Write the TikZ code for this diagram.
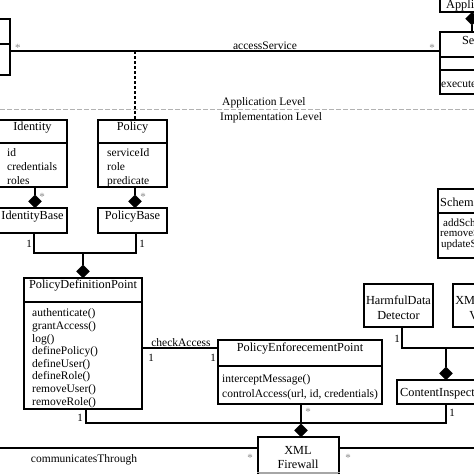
\documentclass[tikz,border=0pt]{standalone}
\usepackage{fontspec}
\setmainfont{Liberation Serif}
\usetikzlibrary{fit,shapes.geometric}
\begin{document}
\begin{tikzpicture}[x=1pt,y=-1pt,
  box/.style={draw, line width=1.1pt, inner sep=0pt, outer sep=0pt, font=\fontsize{12.3}{14}\selectfont},
  txt/.style={font=\fontsize{11.5}{13}\selectfont, inner sep=0pt, anchor=base west},
  ctr/.style={font=\fontsize{12.3}{14}\selectfont, inner sep=0pt, anchor=base},
  lbl/.style={font=\fontsize{11.5}{13}\selectfont, inner sep=0pt, anchor=base},
  mult/.style={font=\fontsize{11}{11}\selectfont, inner sep=0pt, anchor=base},
  ast/.style={font=\fontsize{11}{11}\selectfont, text=black!45, inner sep=0pt, anchor=base},
  dia/.style={diamond, fill=black, draw=black, line width=0.4pt, inner sep=0pt, minimum width=13pt, minimum height=13pt},
  conn/.style={line width=1.1pt}]
\useasboundingbox (0,0) rectangle (474,474);
\fill[white] (0,0) rectangle (474,474);
\clip (0,0) rectangle (474,474);

% ---------- top level classes ----------
\node[box, fit={(-20,19) (10,44)}] (tln) {};
\node[box, fit={(-20,44) (10,75)}] (tlb) {};

\node[box, fit={(440,-10) (504,12)}] (app) {};
\node[txt, font=\fontsize{12.3}{14}\selectfont] (appt) at (446,8) {Application};
\node[box, fit={(440,32) (521,57)}] (svn) {Service};
\node[box, fit={(440,57) (521,70)}] (sva) {};
\node[box, fit={(440,70) (521,94)}] (svo) {};
\node[txt] (svot) at (441,87) {executeService()};

\node[dia, anchor=north] (d6) at (app.south -| 472,0) {};
\draw[conn] (d6.south) -- (svn.north -| 472,0);

\draw[conn] (tlb.east |- 0,51) -- (svn.west |- 0,51);
\node[lbl] (accl) at (265,49) {accessService};
\node[ast] (acc1) at (18,51.4) {*};
\node[ast] (acc2) at (432,51.4) {*};

\coordinate (dsh) at (135,51);

% ---------- level separator ----------
\coordinate (sepL) at (0,109);
\coordinate (sepR) at (474,109);
\draw[black!30, line width=0.8pt, dash pattern=on 5pt off 2pt] (sepL) -- (sepR);
\node[txt] (appl) at (222,105) {Application Level};
\node[txt] (impl) at (220,120.5) {Implementation Level};

% ---------- Identity / Policy ----------
\node[box, fit={(-2,120) (67,143)}] (idn) {Identity};
\node[box, fit={(-2,143) (67,187)}] (ida) {};
\node[txt] (ida1) at (7,156.5) {id};
\node[txt] (ida2) at (7,170.5) {credentials};
\node[txt] (ida3) at (7,184.5) {roles};

\node[box, fit={(98,120) (167,143)}] (poln) {Policy};
\node[box, fit={(98,143) (167,187)}] (pola) {};
\node[txt] (pola1) at (107,156.5) {serviceId};
\node[txt] (pola2) at (107,170.5) {role};
\node[txt] (pola3) at (107,184.5) {predicate};

\draw[conn, dash pattern=on 3pt off 2pt] (dsh) -- (poln.north -| dsh);

\node[box, fit={(-2,208) (67,233)}] (ib) {IdentityBase};
\node[box, fit={(98,208) (167,233)}] (pb) {PolicyBase};

\node[dia, anchor=south] (d1) at (ib.north -| 35,0) {};
\draw[conn] (ida.south -| 35,0) -- (d1.north);
\node[ast] (ast1) at (42,200.5) {*};
\node[dia, anchor=south] (d2) at (pb.north -| 135,0) {};
\draw[conn] (pola.south -| 135,0) -- (d2.north);
\node[ast] (ast2) at (143,200.5) {*};

% ---------- PolicyDefinitionPoint ----------
\node[box, fit={(24,278) (142,302)}] (pdpn) {PolicyDefinitionPoint};
\node[box, fit={(24,302) (142,409)}] (pdpo) {};
\foreach \t [count=\i from 0] in {authenticate(),grantAccess(),log(),definePolicy(),defineUser(),defineRole(),removeUser(),removeRole()}
  \node[txt] (pdpop\i) at (32,{316.8+12.6*\i}) {\t};

\coordinate (bj) at (83,253);
\draw[conn] (ib.south -| 34,0) -- (34,253) -| (pb.south -| 136,0);
\node[dia, anchor=south] (d3) at (pdpn.north -| bj) {};
\draw[conn] (bj) -- (d3.north);
\node[mult] (m1) at (29,247.5) {1};
\node[mult] (m2) at (142,247.5) {1};

% ---------- PolicyEnforcementPoint ----------
\node[box, fit={(218,340) (382,366)}] (pepn) {PolicyEnforecementPoint};
\node[box, fit={(218,366) (382,404)}] (pepo) {};
\node[txt] (pepo1) at (222,382.8) {interceptMessage()};
\node[txt] (pepo2) at (222,397.5) {controlAccess(url, id, credentials)};

\draw[conn] (pdpo.east |- 0,348) -- (pepn.west |- 0,348);
\node[lbl] (chk) at (181,346) {checkAccess};
\node[mult] (m3) at (151,361.7) {1};
\node[mult] (m4) at (213,361.7) {1};

% ---------- right side ----------
\node[box, fit={(438,189) (530,213)}] (scn) {};
\node[txt, font=\fontsize{12.3}{14}\selectfont] (scnt) at (440,206) {SchemaRegistry};
\node[box, fit={(438,213) (530,258)}] (sco) {};
\node[txt, font=\fontsize{11}{11}\selectfont] (sco1) at (443,226.5) {addSchema()};
\node[txt, font=\fontsize{11}{11}\selectfont] (sco2) at (440,236.8) {removeSchema()};
\node[txt, font=\fontsize{11}{11}\selectfont] (sco3) at (441,247) {updateSchema()};

\node[box, fit={(364,284) (433,327)}] (hdd) {};
\node[ctr] (hdd1) at (398.5,304) {HarmfulData};
\node[ctr] (hdd2) at (398.5,319.5) {Detector};

\node[box, fit={(453,284) (527,327)}] (xmlv) {};
\node[ctr] (xmlv1) at (490,304) {XML Schema};
\node[ctr] (xmlv2) at (492,319.5) {Validator};

\node[box, fit={(397,380) (530,404)}] (ci) {};
\node[txt, font=\fontsize{12.3}{14}\selectfont] (cit) at (400,396) {ContentInspector};

\coordinate (hj) at (446,348);
\draw[conn] (hdd.south -| 402,0) -- (402,348) -- (500,348) -- (xmlv.south -| 500,0);
\node[dia, anchor=south] (d5) at (ci.north -| hj) {};
\draw[conn] (hj) -- (d5.north);
\node[mult] (m5) at (397,342.7) {1};

% ---------- XML Firewall ----------
\node[box, fit={(258,437) (339,473)}] (fwn) {};
\node[box, draw=black!35, fit={(258,473) (339,500)}] (fwa) {};
\draw[line width=1.1pt] (fwa.north west) -- (fwa.south west) (fwa.north east) -- (fwa.south east);
\node[ctr] (fw1) at (298,454) {XML};
\node[ctr] (fw2) at (298,468) {Firewall};

\draw[conn] (pdpo.south -| 86,0) -- (86,423) -- (446,423) -- (ci.south -| hj);
\node[dia, anchor=south] (d4) at (fwn.north -| 301,0) {};
\draw[conn] (pepo.south -| 301,0) -- (d4.north);
\node[mult] (m6) at (80,421.7) {1};
\node[mult] (m7) at (452,416.5) {1};
\node[ast] (ast3) at (308,415.7) {*};

\coordinate (fwL) at (-5,448);
\coordinate (fwR) at (480,448);
\draw[conn] (fwn.west |- fwL) -- (fwL);
\draw[conn] (fwn.east |- fwR) -- (fwR);
\node[ast] (ast4) at (250,461.7) {*};
\node[ast] (ast5) at (348,461.7) {*};
\node[lbl] (comm) at (84,462) {communicatesThrough};
\end{tikzpicture}
\end{document}
